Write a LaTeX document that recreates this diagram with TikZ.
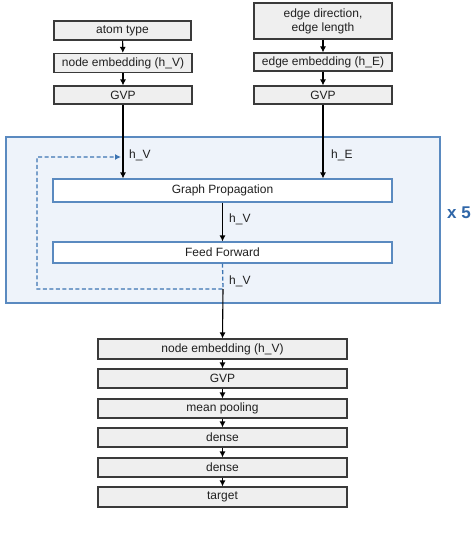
\documentclass[tikz,border=0pt]{standalone}
\usepackage{fontspec}
\setmainfont{Liberation Sans}
\usetikzlibrary{arrows.meta}
\definecolor{boxgray}{HTML}{EFEFEF}
\definecolor{boxline}{HTML}{3A3A3A}
\definecolor{txt}{HTML}{202020}
\definecolor{panelfill}{HTML}{EEF3FA}
\definecolor{panelline}{HTML}{5A8AC0}
\definecolor{dashblue}{HTML}{3C74B2}
\definecolor{xblue}{HTML}{2F66A8}
\tikzset{
  graybox/.style={draw=boxline, fill=boxgray, line width=1.1pt, inner sep=0pt, text=txt, font=\fontsize{12}{14}\selectfont, align=center},
  whitebox/.style={draw=panelline, fill=white, line width=1.1pt, inner sep=0pt, text=txt, font=\fontsize{12}{14}\selectfont},
  arr/.style={-{Latex[length=6pt,width=6pt]}, line width=1.1pt, black},
  lbl/.style={font=\fontsize{12}{14}\selectfont, text=txt, anchor=west, inner sep=0pt},
}
\begin{document}
\begin{tikzpicture}[x=1pt,y=-1pt]
\useasboundingbox (0,0) rectangle (474,535);
% top left column
\node[graybox, minimum width=137pt, minimum height=19pt] (atom) at (122.5,30.5) {atom type};
\node[graybox, minimum width=138pt, minimum height=19pt] (nemb) at (123,63) {node embedding (h\_V)};
\node[graybox, minimum width=138pt, minimum height=18pt] (gvpl) at (123,95) {GVP};
% top right column
\node[graybox, minimum width=138pt, minimum height=36pt] (edir) at (323,21) {edge direction,\\edge length};
\node[graybox, minimum width=138pt, minimum height=18pt] (eemb) at (323,62) {edge embedding (h\_E)};
\node[graybox, minimum width=138pt, minimum height=18pt] (gvpr) at (323,95) {GVP};
% panel
\node[draw=panelline, fill=panelfill, line width=1.1pt, minimum width=434pt, minimum height=166pt, inner sep=0pt] (panel) at (223,220) {};
\node[whitebox, minimum width=339pt, minimum height=23pt] (gp) at (222.5,190.5) {Graph Propagation};
\node[whitebox, minimum width=339pt, minimum height=21pt] (ff) at (222.5,252.5) {Feed Forward};
\node[font=\fontsize{17}{19}\selectfont\bfseries, text=xblue, anchor=west, inner sep=0pt] (x5) at (447,213) {x 5};
% bottom column
\node[graybox, minimum width=249pt, minimum height=20pt] (nemb2) at (222.5,349) {node embedding (h\_V)};
\node[graybox, minimum width=249pt, minimum height=19pt] (gvpb) at (222.5,378.5) {GVP};
\node[graybox, minimum width=249pt, minimum height=19pt] (pool) at (222.5,408.5) {mean pooling};
\node[graybox, minimum width=249pt, minimum height=19pt] (d1) at (222.5,437.5) {dense};
\node[graybox, minimum width=249pt, minimum height=19pt] (d2) at (222.5,467.5) {dense};
\node[graybox, minimum width=249pt, minimum height=20pt] (tgt) at (222.5,497) {target};
% coordinates for dashed loop
\coordinate (lb) at (223,289);
\coordinate (ll) at (37,289);
\coordinate (lt) at (37,157);
\coordinate (le) at (121,157);
% arrows top
\draw[arr] (atom) -- (nemb);
\draw[arr] (nemb) -- (gvpl);
\draw[arr] (edir) -- (eemb);
\draw[arr] (eemb) -- (gvpr);
\draw[arr] (gvpl.south) -- (gvpl.south |- gp.north);
\draw[arr] (gvpr.south) -- (gvpr.south |- gp.north);
\draw[arr] (gp.south) -- (ff.north);
\draw[dash pattern=on 4pt off 2.5pt, dashblue, line width=1.3pt, -{Latex[length=6pt,width=6pt]}] (ff.south) -- (lb) -- (ll) -- (lt) -- (le);
\draw[arr] (lb) -- (nemb2.north);
\draw[arr] (nemb2) -- (gvpb);
\draw[arr] (gvpb) -- (pool);
\draw[arr] (pool) -- (d1);
\draw[arr] (d1) -- (d2);
\draw[arr] (d2) -- (tgt);
% labels
\node[lbl] (l1) at (129,155) {h\_V};
\node[lbl] (l2) at (331,155) {h\_E};
\node[lbl] (l3) at (229,219) {h\_V};
\node[lbl] (l4) at (229,281) {h\_V};
\end{tikzpicture}
\end{document}
